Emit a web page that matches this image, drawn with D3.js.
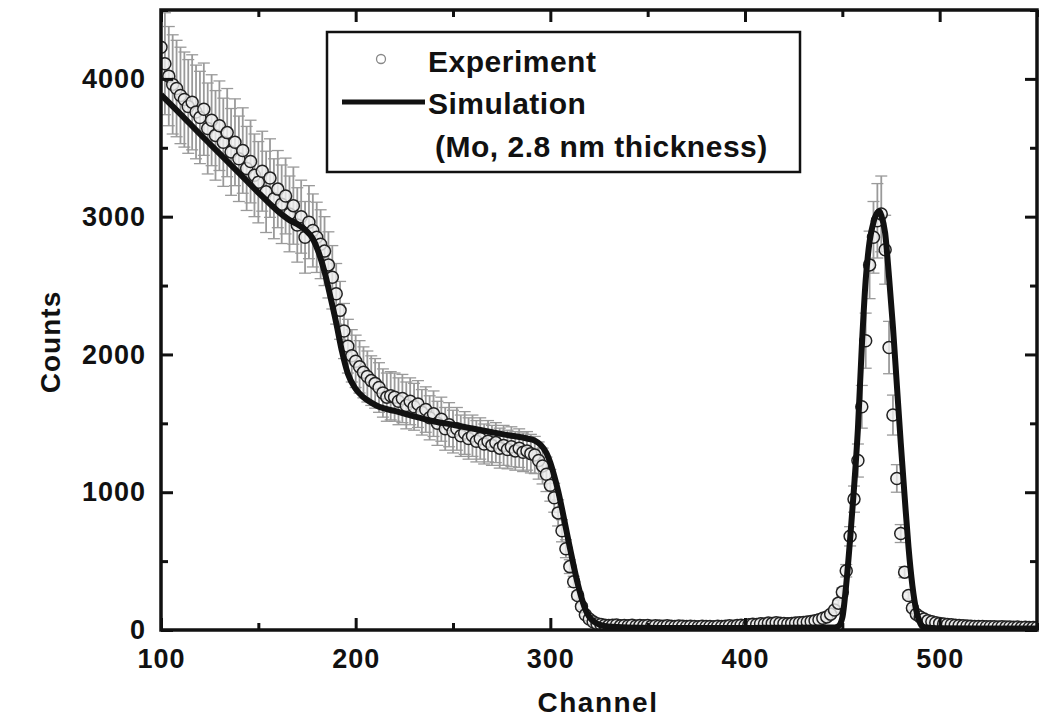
<!DOCTYPE html>
<html>
<head>
<meta charset="utf-8">
<script src="https://cdn.jsdelivr.net/npm/d3@7"></script>
<style>
    body { margin: 0; background: #fff; }
    #chart { width: 1057px; height: 725px; }
    text { font-family: "Liberation Sans", Arial, sans-serif; font-weight: bold; }
</style>
</head>
<body>
<div id="chart"></div>
<script>

// experiment: every 2nd channel from 100 to 550
let channels = d3.range(100, 551, 2);

let expCounts = [
    4230, 4110, 4020, 3960, 3930, 3880, 3850, 3800, 3830, 3760,   // 100
    3720, 3780, 3640, 3700, 3590, 3660, 3540, 3610, 3470, 3540,   // 120
    3420, 3480, 3350, 3400, 3300, 3250, 3330, 3180, 3280, 3130,   // 140
    3200, 3090, 3150, 3020, 3080, 2940, 3000, 2850, 2960, 2900,   // 160
    2850, 2800, 2750, 2650, 2560, 2440, 2320, 2170, 2060, 1990,   // 180
    1950, 1910, 1870, 1840, 1810, 1790, 1760, 1720, 1690, 1700,   // 200
    1690, 1660, 1680, 1630, 1660, 1620, 1640, 1580, 1600, 1540,   // 220
    1570, 1500, 1530, 1460, 1490, 1440, 1460, 1410, 1430, 1390,   // 240
    1410, 1370, 1390, 1350, 1370, 1340, 1360, 1320, 1340, 1310,   // 260
    1330, 1300, 1320, 1290, 1300, 1280, 1270, 1230, 1190, 1130,   // 280
    1050, 960, 850, 720, 590, 460, 350, 250, 170, 110,            // 300
    80, 60, 45, 40, 35, 32, 34, 36, 30, 33,                       // 320
    31, 35, 29, 32, 30, 33, 28, 31, 29, 27,                       // 340
    30, 28, 26, 29, 27, 25, 28, 26, 24, 27,                       // 360
    25, 26, 24, 27, 25, 28, 30, 27, 32, 35,                       // 380
    33, 38, 42, 40, 46, 44, 50, 48, 52, 49,                       // 400
    47, 45, 48, 50, 53, 55, 58, 62, 68, 75,                       // 420
    85, 95, 115, 145, 195, 275, 430, 680, 950, 1230,              // 440
    1620, 2100, 2650, 2850, 2970, 3020, 2760, 2050, 1560, 1100,   // 460
    700, 420, 250, 160, 115, 95, 80, 68, 60, 52,                  // 480
    48, 44, 40, 38, 35, 33, 30, 29, 28, 26,                       // 500
    25, 26, 24, 23, 24, 22, 23, 21, 22, 20,                       // 520
    21, 19, 20, 18, 19, 18                                        // 540
];

let expErrors = [
    380, 370, 360, 360, 350, 350, 345, 340, 345, 340,
    335, 335, 330, 330, 325, 325, 320, 320, 315, 315,
    310, 310, 305, 300, 300, 295, 290, 295, 285, 290,
    280, 285, 275, 275, 280, 270, 265, 260, 265, 265,
    255, 250, 250, 240, 230, 220, 210, 200, 195, 190,
    190, 190, 185, 185, 180, 180, 180, 175, 175, 175,
    175, 170, 175, 170, 170, 170, 170, 165, 165, 160,
    165, 160, 160, 155, 160, 155, 155, 150, 155, 150,
    150, 150, 150, 145, 150, 145, 145, 145, 145, 140,
    145, 140, 140, 140, 140, 140, 135, 135, 130, 125,
    115, 105, 95, 80, 65, 50, 40, 28, 20, 13,
    9, 7, 6, 6, 5, 5, 5, 5, 5, 5,
    5, 5, 5, 5, 5, 5, 5, 5, 5, 5,
    5, 5, 5, 5, 5, 5, 5, 5, 5, 5,
    5, 5, 5, 5, 5, 5, 5, 5, 5, 6,
    6, 6, 6, 6, 7, 7, 7, 7, 7, 7,
    7, 7, 7, 7, 7, 7, 8, 8, 8, 9,
    10, 11, 13, 16, 22, 30, 45, 70, 95, 120,
    155, 200, 245, 260, 270, 275, 250, 190, 145, 100,
    65, 40, 25, 16, 12, 10, 9, 8, 7, 6,
    6, 6, 5, 5, 5, 5, 5, 5, 5, 5,
    5, 5, 5, 5, 5, 5, 5, 5, 5, 5,
    5, 5, 5, 5, 5, 5
];

// simulation curve (Mo, 2.8 nm)
let simChannels = [100, 110, 120, 130, 140, 150, 160, 166, 170, 174, 178, 181, 184, 187, 190, 193, 196, 200,
    204, 208, 212, 220, 230, 240, 250, 260, 270, 280, 288, 292, 295, 298, 300, 302, 304, 306, 308, 310,
    312, 314, 316, 318, 320, 323, 326, 330, 340, 360, 380, 400, 420, 440, 446, 448, 450, 452, 454, 456,
    458, 460, 462, 464, 466, 468, 469, 470, 472, 474, 476, 478, 480, 482, 484, 486, 488, 490, 492, 496,
    500, 520, 550];
let simCounts = [3885, 3745, 3600, 3460, 3318, 3175, 3040, 2975, 2945, 2905, 2840, 2740, 2600, 2420, 2230, 2020, 1860, 1750,
    1690, 1650, 1620, 1590, 1550, 1515, 1490, 1462, 1435, 1410, 1390, 1375, 1345, 1285, 1215, 1120, 1010, 880, 740, 600,
    465, 340, 235, 150, 95, 55, 35, 25, 18, 15, 14, 15, 17, 18, 18, 28, 90, 330, 660, 1030,
    1460, 2055, 2540, 2820, 2960, 3030, 3040, 3010, 2880, 2560, 2200, 1780, 1360, 970, 600, 320, 140, 50, 20, 15,
    12, 10, 10];

let xMajor = [100, 200, 300, 400, 500];
let xMinor = [150, 250, 350, 450, 550];
let yMajor = [0, 1000, 2000, 3000, 4000];
let yMinor = [500, 1500, 2500, 3500, 4500];


class SpectrumChart {
    constructor(parentElement) {
        this.parentElement = parentElement;
        this.initVis();
    }

    initVis() {
        let vis = this;

        vis.margin = {top: 10, right: 20, bottom: 95, left: 161};
        vis.width = 1037 - vis.margin.left;
        vis.height = 630 - vis.margin.top;

        vis.svg = d3.select("#" + vis.parentElement).append("svg")
            .attr("width", 1057)
            .attr("height", 725);

        vis.g = vis.svg.append("g")
            .attr("transform", `translate(${vis.margin.left}, ${vis.margin.top})`);

        vis.x = d3.scaleLinear().domain([100, 550]).range([0, vis.width]);
        vis.y = d3.scaleLinear().domain([0, 4500]).range([vis.height, 0]);

        vis.svg.append("clipPath").attr("id", "plotclip")
            .append("rect")
            .attr("width", vis.width)
            .attr("height", vis.height);

        vis.updateVis();
    }

    updateVis() {
        let vis = this;

        let pts = channels.map((c, i) => ({ch: c, v: expCounts[i], e: expErrors[i]}));

        let plot = vis.g.append("g").attr("clip-path", "url(#plotclip)");

        // error bars first (gray), then circles, then the simulation on top
        let bars = plot.append("g")
            .attr("stroke", "#9a9a9a")
            .attr("stroke-width", 1.8);

        bars.selectAll(".ebar")
            .data(pts)
            .join("line")
            .attr("x1", d => vis.x(d.ch))
            .attr("x2", d => vis.x(d.ch))
            .attr("y1", d => vis.y(d.v - d.e))
            .attr("y2", d => vis.y(d.v + d.e));

        ["top", "bottom"].forEach(side => {
            bars.selectAll(".cap-" + side)
                .data(pts)
                .join("line")
                .attr("x1", d => vis.x(d.ch) - 6)
                .attr("x2", d => vis.x(d.ch) + 6)
                .attr("stroke-width", 1.3)
                .attr("y1", d => vis.y(side === "top" ? d.v + d.e : d.v - d.e))
                .attr("y2", d => vis.y(side === "top" ? d.v + d.e : d.v - d.e));
        });

        plot.append("g")
            .selectAll("circle")
            .data(pts)
            .join("circle")
            .attr("cx", d => vis.x(d.ch))
            .attr("cy", d => vis.y(d.v))
            .attr("r", 6)
            .attr("fill", "#eeeeee")
            .attr("fill-opacity", 0.8)
            .attr("stroke", "#222")
            .attr("stroke-width", 1.5);

        let line = d3.line()
            .x((d, i) => vis.x(d))
            .y((d, i) => vis.y(simCounts[i]))
            .curve(d3.curveMonotoneX);

        plot.append("path")
            .attr("d", line(simChannels))
            .attr("fill", "none")
            .attr("stroke", "#111")
            .attr("stroke-width", 6)
            .attr("stroke-linejoin", "round");

        // axes - ticks point inward on all four sides
        let fs = "27px";

        let xAxis = vis.g.append("g")
            .attr("transform", `translate(0, ${vis.height})`)
            .call(d3.axisBottom(vis.x).tickValues(xMajor).tickSize(-12).tickSizeOuter(0).tickPadding(19));
        xAxis.selectAll("text").attr("font-size", fs).attr("fill", "#111").style("letter-spacing", "1px");

        vis.g.append("g")
            .attr("transform", `translate(0, ${vis.height})`)
            .call(d3.axisBottom(vis.x).tickValues(xMinor).tickSize(-7).tickFormat(""));

        let yAxis = vis.g.append("g")
            .call(d3.axisLeft(vis.y).tickValues(yMajor).tickFormat(d3.format("d"))
                .tickSize(-12).tickSizeOuter(0).tickPadding(15));
        yAxis.selectAll("text").attr("font-size", fs).attr("fill", "#111").style("letter-spacing", "1px");

        vis.g.append("g")
            .call(d3.axisLeft(vis.y).tickValues(yMinor).tickSize(-7).tickFormat(""));

        vis.g.append("g")
            .call(d3.axisTop(vis.x).tickValues(xMajor).tickSize(-12).tickFormat(""));
        vis.g.append("g")
            .call(d3.axisTop(vis.x).tickValues(xMinor).tickSize(-7).tickFormat(""));
        vis.g.append("g")
            .attr("transform", `translate(${vis.width}, 0)`)
            .call(d3.axisRight(vis.y).tickValues(yMajor).tickSize(-12).tickFormat(""));
        vis.g.append("g")
            .attr("transform", `translate(${vis.width}, 0)`)
            .call(d3.axisRight(vis.y).tickValues(yMinor).tickSize(-7).tickFormat(""));

        vis.g.selectAll(".tick line").attr("stroke", "#111").attr("stroke-width", 3);
        vis.g.selectAll(".domain").remove();

        // frame
        vis.g.append("rect")
            .attr("width", vis.width)
            .attr("height", vis.height)
            .attr("fill", "none")
            .attr("stroke", "#111")
            .attr("stroke-width", 3.5);

        // axis titles
        vis.svg.append("text")
            .text("Channel")
            .attr("x", 598)
            .attr("y", 712)
            .attr("text-anchor", "middle")
            .attr("font-size", "28px")
            .attr("fill", "#111")
            .style("letter-spacing", "1.5px");

        vis.svg.append("text")
            .text("Counts")
            .attr("transform", "translate(60, 342) rotate(-90)")
            .attr("text-anchor", "middle")
            .attr("font-size", "28px")
            .attr("fill", "#111")
            .style("letter-spacing", "1px");

        // legend
        let leg = vis.svg.append("g");
        leg.append("rect")
            .attr("x", 327).attr("y", 32)
            .attr("width", 473).attr("height", 140)
            .attr("fill", "#fff")
            .attr("stroke", "#111")
            .attr("stroke-width", 2.5);

        leg.append("circle")
            .attr("cx", 381).attr("cy", 59).attr("r", 4.5)
            .attr("fill", "none")
            .attr("stroke", "#888")
            .attr("stroke-width", 1.3);

        leg.append("line")
            .attr("x1", 342).attr("x2", 425)
            .attr("y1", 102).attr("y2", 102)
            .attr("stroke", "#111")
            .attr("stroke-width", 5);

        let legText = [
            {t: "Experiment", x: 428, y: 72},
            {t: "Simulation", x: 428, y: 114},
            {t: "(Mo, 2.8 nm thickness)", x: 435, y: 157}
        ];
        leg.selectAll(".lt")
            .data(legText)
            .join("text")
            .text(d => d.t)
            .attr("x", d => d.x)
            .attr("y", d => d.y)
            .attr("font-size", "30px")
            .attr("fill", "#111")
            .style("letter-spacing", "0.5px");
    }
}

new SpectrumChart("chart");

</script>
</body>
</html>
